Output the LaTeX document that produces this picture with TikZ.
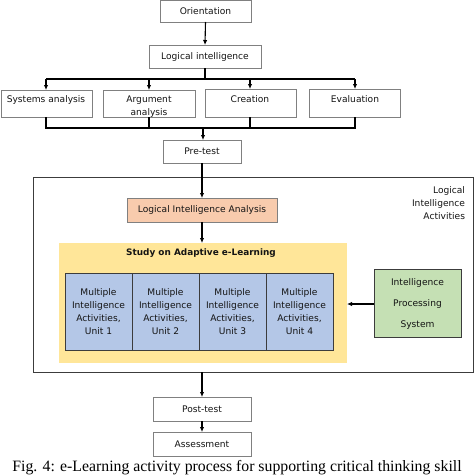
\documentclass[tikz,border=0pt]{standalone}
\usepackage{fontspec}
\setmainfont{DejaVu Sans}
\newfontfamily\capfont{Liberation Serif}
\usetikzlibrary{arrows.meta}
\definecolor{boxgray}{RGB}{128,128,128}
\definecolor{salmon}{RGB}{248,203,173}
\definecolor{yel}{RGB}{255,230,153}
\definecolor{blu}{RGB}{180,199,231}
\definecolor{grn}{RGB}{197,224,180}
\definecolor{dark}{RGB}{60,60,60}
\tikzset{
  x=1pt, y=-1pt,
  every node/.style={inner sep=0pt, outer sep=0pt, font=\fontsize{9.1}{13}\selectfont, text=black!92},
  plainbox/.style={draw=boxgray, line width=0.9pt, fill=white, align=center},
  unitbox/.style={draw=dark, line width=0.9pt, fill=blu, align=center, minimum width=67pt, minimum height=77pt},
  conn/.style={line width=1.1pt, draw=black},
  arr/.style={conn, -{Latex[length=5pt,width=4.5pt]}},
}
\begin{document}
\begin{tikzpicture}
\path[use as bounding box, fill=white] (0,0) rectangle (474,475);

% top chain
\node[plainbox, minimum width=91pt, minimum height=21.5pt] (orient) at (205.5,11.25) {Orientation};
\node[plainbox, minimum width=112pt, minimum height=23pt] (logint) at (205,56.5) {Logical intelligence};

\node[plainbox, minimum width=91pt, minimum height=27pt] (sys) at (46.5,103.5) {};
\node at (46,100) {Systems analysis};
\node[plainbox, minimum width=92pt, minimum height=27pt] (arg) at (149,103.5) {};
\node at (149,100) {Argument};
\node at (149,113) {analysis};
\node[plainbox, minimum width=91pt, minimum height=28pt] (cre) at (250.5,103) {};
\node at (250,99) {Creation};
\node[plainbox, minimum width=91pt, minimum height=28pt] (eva) at (354.5,103) {};
\node at (355,99) {Evaluation};

\node[plainbox, minimum width=78pt, minimum height=23pt] (pre) at (202,151.5) {Pre-test};

\coordinate (busT) at (205,79);
\coordinate (busB) at (203,128);

\draw[arr] (orient.south) -- (logint.north);
\draw[conn] (logint.south) -- (busT);
\draw[conn] (46,79) -- (355,79);
\draw[arr] (46,79) -- (sys.north -| 46,0);
\draw[arr] (149,79) -- (arg.north);
\draw[arr] (250,79) -- (250,89);
\draw[arr] (355,79) -- (355,89);
\draw[conn] (46,117) -- (46,128) -- (355,128) -- (355,117);
\draw[conn] (149,117) -- (149,128);
\draw[conn] (250,117) -- (250,128);
\draw[arr] (busB) -- (pre.north -| busB);

% outer box
\node[draw=dark, line width=1pt, minimum width=440pt, minimum height=195pt] (outer) at (253,274.5) {};
\node[align=right, anchor=east] (lialabel) at (465,203) {Logical\\Intelligence\\Activities};

\node[draw=boxgray, line width=0.9pt, fill=salmon, minimum width=150pt, minimum height=24pt] (lia) at (202,210) {Logical Intelligence Analysis};
\draw[arr] (pre.south) -- (lia.north);

\node[fill=yel, minimum width=288pt, minimum height=120pt] (yellow) at (203,303) {};
\draw[arr] (lia.south) -- (yellow.north -| lia.south);
\node[font=\fontsize{8.9}{13}\selectfont\bfseries] (study) at (201,253) {Study on Adaptive e-Learning};

\node[unitbox] (u1) at (98.5,311.5) {Multiple\\Intelligence\\Activities,\\Unit 1};
\node[unitbox] (u2) at (165.5,311.5) {Multiple\\Intelligence\\Activities,\\Unit 2};
\node[unitbox] (u3) at (232.5,311.5) {Multiple\\Intelligence\\Activities,\\Unit 3};
\node[unitbox] (u4) at (299.5,311.5) {Multiple\\Intelligence\\Activities,\\Unit 4};

\node[draw=dark, line width=1pt, fill=grn, minimum width=87pt, minimum height=68pt, align=center, font=\fontsize{9.1}{21}\selectfont] (ips) at (417.5,303.5) {Intelligence\\Processing\\System};
\draw[arr] (ips.west |- 0,304) -- (yellow.east |- 0,304);

\node[plainbox, minimum width=98pt, minimum height=24pt] (post) at (202,409) {Post-test};
\node[plainbox, minimum width=98pt, minimum height=24pt] (assess) at (202,444) {Assessment};
\draw[arr] (outer.south -| post.north) -- (post.north);
\draw[arr] (post.south) -- (assess.north);

\node[anchor=base, font=\capfont\fontsize{15.8}{18}\selectfont, text=black] (caption) at (237,471) {Fig. 4: e-Learning activity process for supporting critical thinking skill};
\end{tikzpicture}
\end{document}
